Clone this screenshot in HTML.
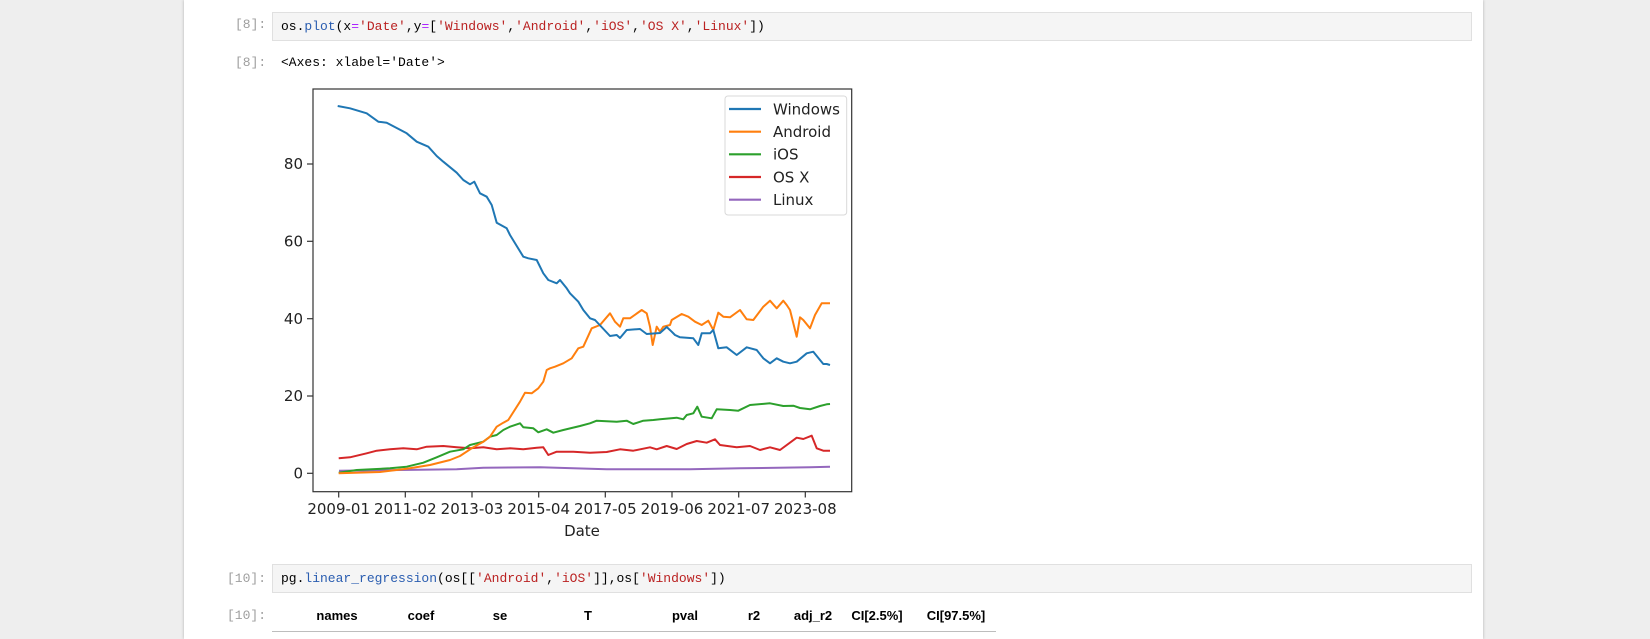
<!DOCTYPE html>
<html><head><meta charset="utf-8"><style>
html,body{margin:0;padding:0;width:1650px;height:639px;overflow:hidden;background:#eeeeee}
.panel{position:absolute;left:184px;top:0;width:1299px;height:639px;background:#fff;box-shadow:0 0 3px rgba(0,0,0,0.25)}
.code{position:absolute;left:272px;width:1200px;height:29px;background:#f5f5f5;border:1px solid #e0e0e0;box-sizing:border-box;font:13px "Liberation Mono",monospace;line-height:27px;padding-left:8px;color:#000;white-space:pre}
.p{position:absolute;font:13px "Liberation Mono",monospace;color:#9e9e9e;white-space:pre}
.s{color:#ba2121}.o{color:#aa22ff}.a{color:#2a5db0}
.th{position:absolute;top:608px;font:bold 13px "Liberation Sans",sans-serif;color:#000;transform:translateX(-50%)}
</style></head><body>
<div class="panel"></div>
<div class="p" style="left:235px;top:17px">[8]:</div>
<div class="code" style="top:12px">os.<span class="a">plot</span>(x<span class="o">=</span><span class="s">'Date'</span>,y<span class="o">=</span>[<span class="s">'Windows'</span>,<span class="s">'Android'</span>,<span class="s">'iOS'</span>,<span class="s">'OS X'</span>,<span class="s">'Linux'</span>])</div>
<div class="p" style="left:235px;top:55px">[8]:</div>
<div class="p" style="left:281px;top:55px;color:#000">&lt;Axes: xlabel='Date'&gt;</div>
<div class="p" style="left:227px;top:571px">[10]:</div>
<div class="code" style="top:564px">pg.<span class="a">linear_regression</span>(os[[<span class="s">'Android'</span>,<span class="s">'iOS'</span>]],os[<span class="s">'Windows'</span>])</div>
<div class="p" style="left:227px;top:608px">[10]:</div>
<div class="th" style="left:337px">names</div>
<div class="th" style="left:421px">coef</div>
<div class="th" style="left:500px">se</div>
<div class="th" style="left:588px">T</div>
<div class="th" style="left:685px">pval</div>
<div class="th" style="left:754px">r2</div>
<div class="th" style="left:813px">adj_r2</div>
<div class="th" style="left:877px">CI[2.5%]</div>
<div class="th" style="left:956px">CI[97.5%]</div>
<div style="position:absolute;left:272px;top:631px;width:724px;height:1px;background:#bdbdbd"></div>

<svg width="1650" height="639" style="position:absolute;left:0;top:0" xmlns="http://www.w3.org/2000/svg" font-family="DejaVu Sans, Liberation Sans, sans-serif" font-size="15">
<rect x="313" y="89" width="538.7" height="402.7" fill="#fff" stroke="#333" stroke-width="1.2"/>
<g stroke="#333" stroke-width="1.2">
<line x1="313" y1="473.3" x2="307" y2="473.3"/><line x1="313" y1="396" x2="307" y2="396"/><line x1="313" y1="318.7" x2="307" y2="318.7"/><line x1="313" y1="241.3" x2="307" y2="241.3"/><line x1="313" y1="164" x2="307" y2="164"/>
<line x1="338.7" y1="491.7" x2="338.7" y2="497.5"/><line x1="405.3" y1="491.7" x2="405.3" y2="497.5"/><line x1="472" y1="491.7" x2="472" y2="497.5"/><line x1="538.7" y1="491.7" x2="538.7" y2="497.5"/><line x1="605.3" y1="491.7" x2="605.3" y2="497.5"/><line x1="672" y1="491.7" x2="672" y2="497.5"/><line x1="738.7" y1="491.7" x2="738.7" y2="497.5"/><line x1="805.3" y1="491.7" x2="805.3" y2="497.5"/>
</g>
<g fill="#222" text-anchor="end">
<text x="303" y="478.5">0</text><text x="303" y="401">20</text><text x="303" y="324">40</text><text x="303" y="246.5">60</text><text x="303" y="169">80</text>
</g>
<g fill="#222" text-anchor="middle">
<text x="338.7" y="514">2009-01</text><text x="405.3" y="514">2011-02</text><text x="472" y="514">2013-03</text><text x="538.7" y="514">2015-04</text><text x="605.3" y="514">2017-05</text><text x="672" y="514">2019-06</text><text x="738.7" y="514">2021-07</text><text x="805.3" y="514">2023-08</text>
<text x="582" y="536">Date</text>
</g>
<g fill="none" stroke-width="2" stroke-linejoin="round">
<polyline stroke="#9467bd" points="339,470.7 456.7,469.3 483.3,467.7 540,467.3 606.7,469.3 690,469.3 740,468.3 810,467.3 830,466.7"/>
<polyline stroke="#d62728" points="338.7,458.3 350,457.3 366.7,453.3 376.7,450.7 390,449.3 403.3,448.3 416.7,449.3 426.7,446.7 443.3,446 456.7,447.3 470,448.3 483.3,447.3 496.7,449.3 510,448.3 523.3,449.3 536.7,447.7 543.3,447.3 548.3,455 556.7,451.7 573.3,451.7 590,452.7 606.7,452 620,449.3 633.3,450.7 650,447.3 656.7,449.3 666.7,446 676.7,449 686.7,444 696.7,441 706.7,442.7 715,439.3 720,445 736.7,447.3 750,446 760,450 770,447.3 780,450 796.7,437.7 803.3,439 811.7,435.7 816.7,448.3 823.3,450.7 830,450.7"/>
<polyline stroke="#2ca02c" points="338.7,472.7 356.7,470 390,468.3 406.7,466.7 423.3,462.7 436.7,457.3 450,451.7 463.3,449.3 470,445 483.3,441.7 490,436.7 496.7,435 503.3,430 510,426.7 520,423.3 523.3,427.3 533.3,428.3 538.3,432.3 546.7,429.3 553.3,432.7 563.3,430 580,426 590,423.3 596.7,420.7 616.7,421.7 626.7,420.7 633.3,424 643.3,420.7 653.3,420 660,419.3 676.7,417.7 683.3,419.3 686.7,415 693.3,413.3 697.3,406.7 701.7,416.7 711.7,418.3 716.7,409.3 730,410 738.3,410.7 750,405 770,403.3 783.3,406 793.3,405.7 800,408 810,409.3 820,406 826.7,404.3 830,404"/>
<polyline stroke="#ff7f0e" points="338.7,473.3 380,472 406.7,468.7 430,465 450,460 460,456 471.7,448.3 483.3,441.7 490,436.7 496.7,426.7 503.3,422.7 508.3,420 520,401.7 525,392.7 531.7,393.3 538.3,388.3 543.3,381.7 546.7,370 550,368.3 555,366.7 563.3,363.3 571.7,358.3 578.3,348.3 583.3,346.7 591.7,328.3 600,325 610,313.3 615,321.7 620,326.7 623.3,318.3 630,318.3 641.7,310 646.7,313.3 650,326.7 652.7,345 656.7,326.7 660,331.7 663.3,326.7 670,325 671.7,320 681.7,314 688.3,316.7 695,321.7 701.7,325 708.3,320.7 713.3,330 718.3,312.7 723.3,316.7 730,317.3 740,310 746.7,319.3 753.3,320 763.3,306.7 770,300.7 776.7,308.3 783.3,300.7 786.7,305 790,310 796.7,336.7 800,317.3 803.3,320 810,328.3 815,315 821.7,303.3 830,303.3"/>
<polyline stroke="#1f77b4" points="337.7,106 350,108.3 366.7,113.3 378.3,121.7 386.7,122.7 406.7,133.3 416.7,141.7 428.3,146.7 436.7,156 443.3,161.7 456.7,172.7 463.3,180 470,184.3 474.3,181.7 480,193.3 486.7,196.7 491.7,205 496.7,222.7 506.7,228.3 510,235 523.3,256.7 528.3,258.3 536.7,260 543.3,273.3 548.3,280 556.7,283.3 560,280 566.7,288.3 570,293.3 578.3,301.7 583.3,310 590,318.3 595,320 610,336 616.7,335 620,338 626.7,330 640,329 646.7,334 660,333 666.7,327 671.7,331.7 675,335 680,337.3 693.3,338.3 698.3,345 701.7,333.3 710,333.3 713.3,330 718.3,348.3 726.7,347.3 736.7,355 746.7,347.3 756.7,350 763.3,358.3 770,363.3 776.7,358.3 783.3,361.7 790,363.3 796.7,361.7 806.7,353.3 813.3,351.7 820,360 823.3,364 826.7,364 830,365"/>
</g>
<rect x="725" y="96" width="121.7" height="119" rx="3" fill="#fff" fill-opacity="0.8" stroke="#d9d9d9"/>
<g stroke-width="2.2">
<line x1="729" y1="109" x2="761" y2="109" stroke="#1f77b4"/>
<line x1="729" y1="131.7" x2="761" y2="131.7" stroke="#ff7f0e"/>
<line x1="729" y1="154.3" x2="761" y2="154.3" stroke="#2ca02c"/>
<line x1="729" y1="177" x2="761" y2="177" stroke="#d62728"/>
<line x1="729" y1="199.7" x2="761" y2="199.7" stroke="#9467bd"/>
</g>
<g fill="#222">
<text x="773" y="114.5">Windows</text><text x="773" y="137">Android</text><text x="773" y="159.7">iOS</text><text x="773" y="182.3">OS X</text><text x="773" y="205">Linux</text>
</g>
</svg>
</body></html>
